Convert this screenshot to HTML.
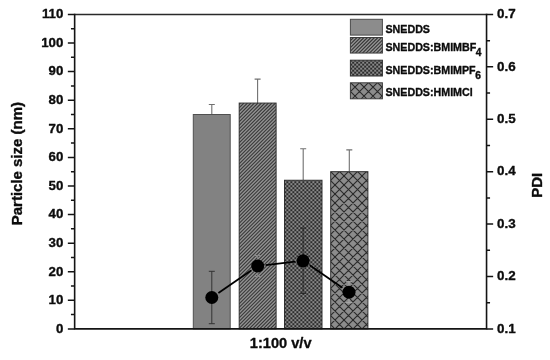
<!DOCTYPE html>
<html><head><meta charset="utf-8"><title>chart</title>
<style>
html,body{margin:0;padding:0;background:#fff;}
svg{display:block;filter:blur(0.35px);}
text{font-family:"Liberation Sans",Arial,sans-serif;font-weight:bold;fill:#0c0c0c;stroke:#0c0c0c;stroke-width:0.35px;stroke-linejoin:round;}
</style></head><body>
<svg width="550" height="360" viewBox="0 0 550 360">
<defs>
<pattern id="ck" x="0.36" y="1.2" width="4" height="4" patternUnits="userSpaceOnUse">
<rect width="4" height="4" fill="#2c2c2c"/><rect width="2" height="2" fill="#898989"/><rect x="2" y="2" width="2" height="2" fill="#898989"/>
</pattern>
<pattern id="ck2" x="2.18" y="1.67" width="4" height="4" patternUnits="userSpaceOnUse">
<rect width="4" height="4" fill="#2c2c2c"/><rect width="2" height="2" fill="#898989"/><rect x="2" y="2" width="2" height="2" fill="#898989"/>
</pattern>
</defs>
<rect width="550" height="360" fill="#fff"/>

<path d="M211.8 114.5V104.5M208.8 104.5H214.8" stroke="#707070" stroke-width="1.1" fill="none"/>
<rect x="193.30" y="114.50" width="36.90" height="214.40" fill="#828282" stroke="#505050" stroke-width="1"/>
<path d="M257.6 103.1V79.1M254.6 79.1H260.6" stroke="#707070" stroke-width="1.1" fill="none"/>
<clipPath id="c1"><rect x="239.20" y="103.07" width="36.90" height="225.83"/></clipPath>
<rect x="239.20" y="103.07" width="36.90" height="225.83" fill="#939393"/>
<path clip-path="url(#c1)" d="M233.43 103.07L7.60 328.90M236.93 103.07L11.10 328.90M240.43 103.07L14.60 328.90M243.93 103.07L18.10 328.90M247.43 103.07L21.60 328.90M250.93 103.07L25.10 328.90M254.43 103.07L28.60 328.90M257.93 103.07L32.10 328.90M261.43 103.07L35.60 328.90M264.93 103.07L39.10 328.90M268.43 103.07L42.60 328.90M271.93 103.07L46.10 328.90M275.43 103.07L49.60 328.90M278.93 103.07L53.10 328.90M282.43 103.07L56.60 328.90M285.93 103.07L60.10 328.90M289.43 103.07L63.60 328.90M292.93 103.07L67.10 328.90M296.43 103.07L70.60 328.90M299.93 103.07L74.10 328.90M303.43 103.07L77.60 328.90M306.93 103.07L81.10 328.90M310.43 103.07L84.60 328.90M313.93 103.07L88.10 328.90M317.43 103.07L91.60 328.90M320.93 103.07L95.10 328.90M324.43 103.07L98.60 328.90M327.93 103.07L102.10 328.90M331.43 103.07L105.60 328.90M334.93 103.07L109.10 328.90M338.43 103.07L112.60 328.90M341.93 103.07L116.10 328.90M345.43 103.07L119.60 328.90M348.93 103.07L123.10 328.90M352.43 103.07L126.60 328.90M355.93 103.07L130.10 328.90M359.43 103.07L133.60 328.90M362.93 103.07L137.10 328.90M366.43 103.07L140.60 328.90M369.93 103.07L144.10 328.90M373.43 103.07L147.60 328.90M376.93 103.07L151.10 328.90M380.43 103.07L154.60 328.90M383.93 103.07L158.10 328.90M387.43 103.07L161.60 328.90M390.93 103.07L165.10 328.90M394.43 103.07L168.60 328.90M397.93 103.07L172.10 328.90M401.43 103.07L175.60 328.90M404.93 103.07L179.10 328.90M408.43 103.07L182.60 328.90M411.93 103.07L186.10 328.90M415.43 103.07L189.60 328.90M418.93 103.07L193.10 328.90M422.43 103.07L196.60 328.90M425.93 103.07L200.10 328.90M429.43 103.07L203.60 328.90M432.93 103.07L207.10 328.90M436.43 103.07L210.60 328.90M439.93 103.07L214.10 328.90M443.43 103.07L217.60 328.90M446.93 103.07L221.10 328.90M450.43 103.07L224.60 328.90M453.93 103.07L228.10 328.90M457.43 103.07L231.60 328.90M460.93 103.07L235.10 328.90M464.43 103.07L238.60 328.90M467.93 103.07L242.10 328.90M471.43 103.07L245.60 328.90M474.93 103.07L249.10 328.90M478.43 103.07L252.60 328.90M481.93 103.07L256.10 328.90M485.43 103.07L259.60 328.90M488.93 103.07L263.10 328.90M492.43 103.07L266.60 328.90M495.93 103.07L270.10 328.90M499.43 103.07L273.60 328.90M502.93 103.07L277.10 328.90M506.43 103.07L280.60 328.90" stroke="#383838" stroke-width="1.15" fill="none"/>
<rect x="239.20" y="103.07" width="36.90" height="225.83" fill="none" stroke="#333" stroke-width="1"/>
<path d="M303.2 180.3V148.8M300.2 148.8H306.2" stroke="#707070" stroke-width="1.1" fill="none"/>
<rect x="284.50" y="180.25" width="37.50" height="148.65" fill="url(#ck)" stroke="#303030" stroke-width="1"/>
<path d="M349.3 171.7V149.9M346.3 149.9H352.3" stroke="#707070" stroke-width="1.1" fill="none"/>
<clipPath id="c2"><rect x="330.70" y="171.67" width="37.20" height="157.22"/></clipPath>
<rect x="330.70" y="171.67" width="37.20" height="157.22" fill="#8c8c8c"/>
<path clip-path="url(#c2)" d="M321.33 171.67L164.10 328.90M330.33 171.67L173.10 328.90M339.33 171.67L182.10 328.90M348.33 171.67L191.10 328.90M357.33 171.67L200.10 328.90M366.33 171.67L209.10 328.90M375.33 171.67L218.10 328.90M384.33 171.67L227.10 328.90M393.33 171.67L236.10 328.90M402.33 171.67L245.10 328.90M411.33 171.67L254.10 328.90M420.33 171.67L263.10 328.90M429.33 171.67L272.10 328.90M438.33 171.67L281.10 328.90M447.33 171.67L290.10 328.90M456.33 171.67L299.10 328.90M465.33 171.67L308.10 328.90M474.33 171.67L317.10 328.90M483.33 171.67L326.10 328.90M492.33 171.67L335.10 328.90M501.33 171.67L344.10 328.90M510.33 171.67L353.10 328.90M519.33 171.67L362.10 328.90M528.33 171.67L371.10 328.90M537.33 171.67L380.10 328.90M159.67 171.67L316.90 328.90M168.67 171.67L325.90 328.90M177.67 171.67L334.90 328.90M186.67 171.67L343.90 328.90M195.67 171.67L352.90 328.90M204.67 171.67L361.90 328.90M213.67 171.67L370.90 328.90M222.67 171.67L379.90 328.90M231.67 171.67L388.90 328.90M240.67 171.67L397.90 328.90M249.67 171.67L406.90 328.90M258.67 171.67L415.90 328.90M267.67 171.67L424.90 328.90M276.67 171.67L433.90 328.90M285.67 171.67L442.90 328.90M294.67 171.67L451.90 328.90M303.67 171.67L460.90 328.90M312.67 171.67L469.90 328.90M321.67 171.67L478.90 328.90M330.67 171.67L487.90 328.90M339.67 171.67L496.90 328.90M348.67 171.67L505.90 328.90M357.67 171.67L514.90 328.90M366.67 171.67L523.90 328.90M375.67 171.67L532.90 328.90M384.67 171.67L541.90 328.90" stroke="#2a2a2a" stroke-width="1.1" fill="none"/>
<rect x="330.70" y="171.67" width="37.20" height="157.22" fill="none" stroke="#333" stroke-width="1"/>
<path d="M211.8 271.3V323.7M208.8 271.3H214.8M208.8 323.7H214.8" stroke="#333" stroke-width="1" fill="none"/>
<path d="M257.7 255.5V276.5M254.7 255.5H260.7M254.7 276.5H260.7" stroke="#888" stroke-width="1" fill="none"/>
<path d="M303.1 228.0V293.5M300.1 228.0H306.1M300.1 293.5H306.1" stroke="#1c1c1c" stroke-width="1" fill="none" opacity="0.75"/>
<path d="M349.0 281.7V302.7M346.0 281.7H352.0M346.0 302.7H352.0" stroke="#aaa" stroke-width="1" fill="none"/>
<line x1="218.4" y1="292.9" x2="251.1" y2="270.5" stroke="#000" stroke-width="1.8"/>
<line x1="265.6" y1="265.1" x2="295.2" y2="261.7" stroke="#000" stroke-width="1.8"/>
<line x1="309.7" y1="265.3" x2="342.4" y2="287.7" stroke="#000" stroke-width="1.8"/>
<circle cx="211.8" cy="297.5" r="6.5" fill="#000"/>
<circle cx="257.7" cy="266.0" r="6.5" fill="#000"/>
<circle cx="303.1" cy="260.8" r="6.5" fill="#000"/>
<circle cx="349.0" cy="292.2" r="6.5" fill="#000"/>
<path d="M74.65 14.45H486.55" fill="none" stroke="#2a2a2a" stroke-width="1.4"/>
<path d="M74.65 13.75V328.9H486.55V13.75" fill="none" stroke="#141414" stroke-width="1.6"/>
<path d="M74.65 328.90h-6.8M74.65 314.61h-3.7M74.65 300.31h-6.8M74.65 286.02h-3.7M74.65 271.73h-6.8M74.65 257.43h-3.7M74.65 243.14h-6.8M74.65 228.85h-3.7M74.65 214.55h-6.8M74.65 200.26h-3.7M74.65 185.97h-6.8M74.65 171.67h-3.7M74.65 157.38h-6.8M74.65 143.09h-3.7M74.65 128.80h-6.8M74.65 114.50h-3.7M74.65 100.21h-6.8M74.65 85.92h-3.7M74.65 71.62h-6.8M74.65 57.33h-3.7M74.65 43.04h-6.8M74.65 28.74h-3.7M74.65 14.45h-6.8M486.55 328.90h6.6M486.55 302.70h3.5M486.55 276.49h6.6M486.55 250.29h3.5M486.55 224.08h6.6M486.55 197.88h3.5M486.55 171.67h6.6M486.55 145.47h3.5M486.55 119.27h6.6M486.55 93.06h3.5M486.55 66.86h6.6M486.55 40.65h3.5M486.55 14.45h6.6" stroke="#141414" stroke-width="1.5" fill="none"/>
<text x="63.3" y="332.7" font-size="13.25" text-anchor="end">0</text>
<text x="63.3" y="304.1" font-size="13.25" text-anchor="end">10</text>
<text x="63.3" y="275.5" font-size="13.25" text-anchor="end">20</text>
<text x="63.3" y="246.9" font-size="13.25" text-anchor="end">30</text>
<text x="63.3" y="218.4" font-size="13.25" text-anchor="end">40</text>
<text x="63.3" y="189.8" font-size="13.25" text-anchor="end">50</text>
<text x="63.3" y="161.2" font-size="13.25" text-anchor="end">60</text>
<text x="63.3" y="132.6" font-size="13.25" text-anchor="end">70</text>
<text x="63.3" y="104.0" font-size="13.25" text-anchor="end">80</text>
<text x="63.3" y="75.4" font-size="13.25" text-anchor="end">90</text>
<text x="63.3" y="46.8" font-size="13.25" text-anchor="end">100</text>
<text x="63.3" y="18.2" font-size="13.25" text-anchor="end">110</text>
<text x="497.1" y="332.6" font-size="13.4">0.1</text>
<text x="497.1" y="280.2" font-size="13.4">0.2</text>
<text x="497.1" y="227.8" font-size="13.4">0.3</text>
<text x="497.1" y="175.4" font-size="13.4">0.4</text>
<text x="497.1" y="123.0" font-size="13.4">0.5</text>
<text x="497.1" y="70.6" font-size="13.4">0.6</text>
<text x="497.1" y="18.1" font-size="13.4">0.7</text>
<text transform="translate(22.0 163.6) rotate(-90)" font-size="15" text-anchor="middle">Particle size (nm)</text>
<text transform="translate(541.5 185.25) rotate(-90)" font-size="15" text-anchor="middle">PDI</text>
<text x="280.7" y="348.3" font-size="14.6" text-anchor="middle">1:100 v/v</text>
<rect x="350.4" y="19.3" width="32.0" height="15.8" fill="#8c8c8c" stroke="#4c4c4c" stroke-width="1"/>
<text x="385.5" y="32.95" font-size="10.68">SNEDDS</text>
<clipPath id="c3"><rect x="350.40" y="37.50" width="32.00" height="15.55"/></clipPath>
<rect x="350.40" y="37.50" width="32.00" height="15.55" fill="#969696"/>
<path clip-path="url(#c3)" d="M346.50 37.50L330.95 53.05M350.00 37.50L334.45 53.05M353.50 37.50L337.95 53.05M357.00 37.50L341.45 53.05M360.50 37.50L344.95 53.05M364.00 37.50L348.45 53.05M367.50 37.50L351.95 53.05M371.00 37.50L355.45 53.05M374.50 37.50L358.95 53.05M378.00 37.50L362.45 53.05M381.50 37.50L365.95 53.05M385.00 37.50L369.45 53.05M388.50 37.50L372.95 53.05M392.00 37.50L376.45 53.05M395.50 37.50L379.95 53.05M399.00 37.50L383.45 53.05M402.50 37.50L386.95 53.05" stroke="#383838" stroke-width="1.15" fill="none"/>
<rect x="350.40" y="37.50" width="32.00" height="15.55" fill="none" stroke="#3c3c3c" stroke-width="1"/>
<text x="385.5" y="50.95" font-size="10.68">SNEDDS:BMIMBF<tspan dx="-0.4" dy="4.65" font-size="10.2">4</tspan></text>
<rect x="350.40" y="60.20" width="32.00" height="15.80" fill="url(#ck2)" stroke="#303030" stroke-width="1"/>
<text x="385.5" y="73.85" font-size="10.68">SNEDDS:BMIMPF<tspan dx="-0.4" dy="4.65" font-size="10.2">6</tspan></text>
<clipPath id="c4"><rect x="350.40" y="82.80" width="32.00" height="16.00"/></clipPath>
<rect x="350.40" y="82.80" width="32.00" height="16.00" fill="#8c8c8c"/>
<path clip-path="url(#c4)" d="M341.20 82.80L325.20 98.80M350.20 82.80L334.20 98.80M359.20 82.80L343.20 98.80M368.20 82.80L352.20 98.80M377.20 82.80L361.20 98.80M386.20 82.80L370.20 98.80M395.20 82.80L379.20 98.80M404.20 82.80L388.20 98.80M413.20 82.80L397.20 98.80M323.80 82.80L339.80 98.80M332.80 82.80L348.80 98.80M341.80 82.80L357.80 98.80M350.80 82.80L366.80 98.80M359.80 82.80L375.80 98.80M368.80 82.80L384.80 98.80M377.80 82.80L393.80 98.80M386.80 82.80L402.80 98.80M395.80 82.80L411.80 98.80" stroke="#2a2a2a" stroke-width="1.1" fill="none"/>
<rect x="350.40" y="82.80" width="32.00" height="16.00" fill="none" stroke="#3c3c3c" stroke-width="1"/>
<text x="385.5" y="95.65" font-size="10.68">SNEDDS:HMIMCl</text>
</svg>
</body></html>
